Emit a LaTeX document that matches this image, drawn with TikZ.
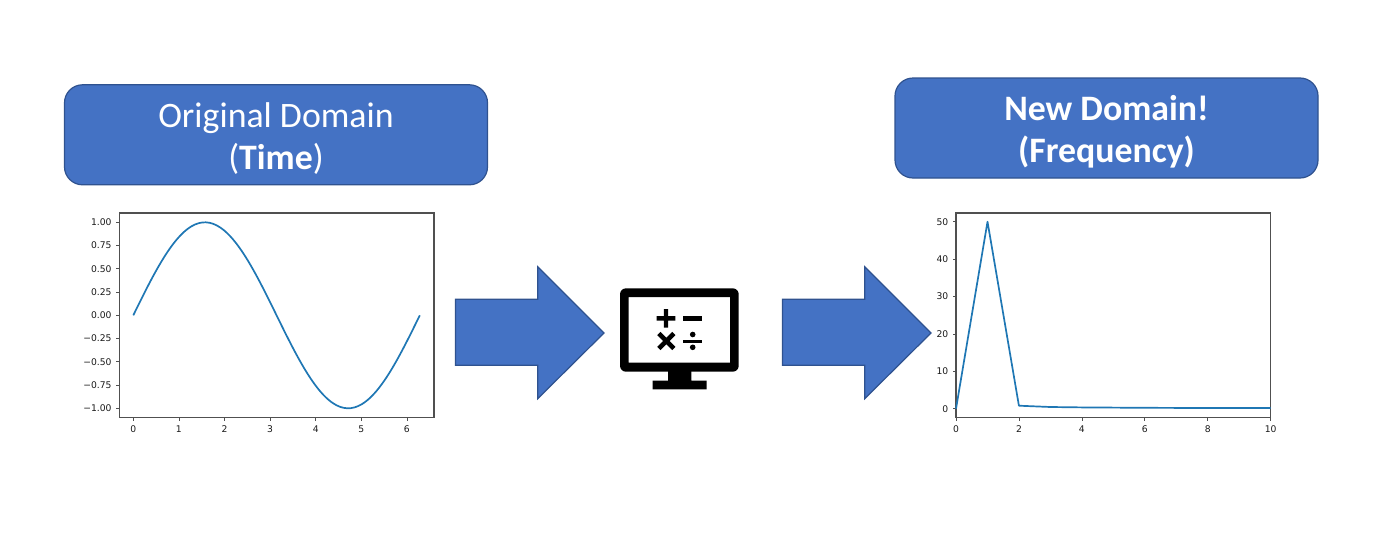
\documentclass[tikz,border=0pt]{standalone}
\usepackage{fontspec}
\setmainfont{Carlito}
\newfontfamily\plotfont{DejaVu Sans}
\usetikzlibrary{positioning}
\definecolor{boxblue}{HTML}{4472C4}
\definecolor{boxedge}{HTML}{2F528F}
\definecolor{plotline}{HTML}{1F77B4}
\definecolor{plotframe}{HTML}{505050}
\newcommand{\boxtext}[1]{\raisebox{-2pt}[\height][\depth]{\parbox{200pt}{\centering #1}}}

\begin{document}
\begin{tikzpicture}[
      x=0.5pt,y=-0.5pt,
      mybox/.style={
         rectangle,
         rounded corners=9pt,
         draw=boxedge,
         fill=boxblue,
         line width=0.6pt,
         text=white,
         align=center,
         inner sep=0pt,
         minimum width=211.5pt,
         minimum height=50pt,
         font=\fontsize{17.9pt}{21pt}\selectfont},
      myarrow/.style={
         draw=boxedge,
         fill=boxblue,
         line width=0.6pt,
         line join=miter},
      myframe/.style={draw=plotframe,line width=0.55pt},
      mytick/.style={draw=plotframe,line width=0.4pt},
      mycurve/.style={draw=plotline,line width=0.85pt,line join=round},
      mylabel/.style={
         inner sep=0pt,
         text=black!90,
         font=\plotfont\fontsize{4.6pt}{5pt}\selectfont}
      ]
      \useasboundingbox (0,0) rectangle (1400,557);
      % title boxes
      \node[mybox] (orig) at (276,134.8) {\boxtext{Original Domain\\(\textbf{Time})}};
      \node[mybox] (new) at (1106.5,128) {\boxtext{\textbf{New Domain!}\\\textbf{(Frequency)}}};
      % time plot
      \draw[myframe] (119.3,213) rectangle (434,417.7);
      \foreach \x in {0,...,6}{
         \draw[mytick] ({133.3+45.6*\x},417.7) -- ++(0,3.5);
         \node[mylabel] (tx\x) at ({133.3+45.6*\x},429) {\x};
      }
      \foreach \y/\txt in {
         1/1.00,
         0.75/0.75,
         0.5/0.50,
         0.25/0.25,
         0/0.00,
         -0.25/−0.25,
         -0.5/−0.50,
         -0.75/−0.75,
         -1/−1.00}{
         \draw[mytick] (119.3,{315.3-93*\y}) -- ++(-3.5,0);
         \node[mylabel,anchor=east] (ty\txt) at (112,{315.3-93*\y}) {\txt};
      }
      \draw[mycurve] plot[domain=0:6.2832,samples=80,smooth] ({133.3+45.6*\x},{315.3-93*sin(\x r)});
      % the two block arrows
      \foreach \s in {0,327}
         \draw[myarrow] (455.5+\s,299.3) -- (537.7+\s,299.3) -- (537.7+\s,266.7) -- (604+\s,333)
            -- (537.7+\s,398.7) -- (537.7+\s,365.3) -- (455.5+\s,365.3) -- cycle;
      % monitor
      \fill[black,rounded corners=3pt,even odd rule] (620,288.3) rectangle (738.7,371.7)
         {[sharp corners] (628.7,297) rectangle (730,362.7)};
      \fill[black] (668,371) rectangle (691.3,381) (652.7,380.7) rectangle (706.7,389.3);
      \fill[black] (656.7,316.1) rectangle (675.3,320.5) (663.8,309) rectangle (668.2,327.6);
      \fill[black] (683.3,316.1) rectangle (702,320.5);
      \draw[black,line width=2.3pt] (658.8,333.5) -- (673.8,348.5) (658.8,348.5) -- (673.8,333.5);
      \fill[black] (683.3,339.5) rectangle (702,342.5);
      \fill[black] (692.7,334.5) circle[radius=2.8] (692.7,347.3) circle[radius=2.8];
      % frequency plot
      \draw[myframe] (956,213) rectangle (1270.7,417.7);
      \foreach \x in {0,2,...,10}{
         \draw[mytick] ({956+31.47*\x},417.7) -- ++(0,3.5);
         \node[mylabel] (fx\x) at ({956+31.47*\x},429) {\x};
      }
      \foreach \y in {0,10,...,50}{
         \draw[mytick] (956,{408.7-3.74*\y}) -- ++(-3.5,0);
         \node[mylabel,anchor=east] (fy\y) at (948.6,{408.7-3.74*\y}) {\y};
      }
      \draw[mycurve] plot coordinates {(956,408.7) (987.5,221.7) (1018.9,405.7) (1050.4,407) (1082,407.4)
         (1113.4,407.6) (1144.8,407.8) (1176.3,407.9) (1207.8,408) (1239.2,408) (1270.7,408)};
\end{tikzpicture}
\end{document}
